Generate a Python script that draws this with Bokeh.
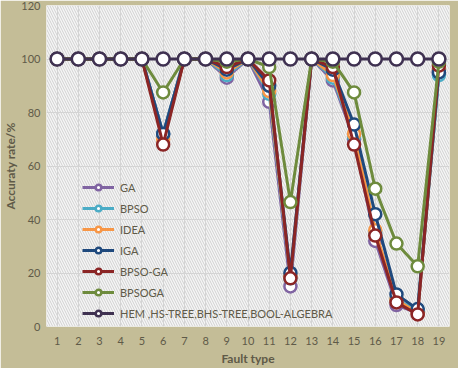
from bokeh.plotting import figure
from bokeh.models import Range1d, FixedTicker, Legend, LegendItem
from bokeh.embed import file_html
from bokeh.resources import INLINE

fault_type = list(range(1, 20))
x_ticks = list(range(1, 20))
y_ticks = [0, 20, 40, 60, 80, 100, 120]

ga      = [100, 100, 100, 100, 100, 72, 100, 100, 93, 100, 84, 15, 100, 92, 70, 32, 8, 5, 95]
bpso    = [100, 100, 100, 100, 100, 72, 100, 100, 94, 100, 87, 18, 100, 93, 71, 35, 10, 6, 94]
idea    = [100, 100, 100, 100, 100, 70, 100, 100, 95, 100, 88, 19, 100, 94, 72, 36, 10, 5, 96]
iga     = [100, 100, 100, 100, 100, 72, 100, 100, 96, 100, 90, 20, 100, 96, 75.5, 42, 12, 6.5, 95]
bpso_ga = [100, 100, 100, 100, 100, 68, 100, 100, 97, 100, 92, 18, 100, 97, 68, 34, 9, 4.5, 97.5]
bpsoga  = [100, 100, 100, 100, 100, 87.5, 100, 100, 99, 100, 97, 46.5, 100, 99, 87.5, 51.5, 31, 22.5, 99]
hem     = [100] * 19

names = ["GA", "BPSO", "IDEA", "IGA", "BPSO-GA", "BPSOGA", "HEM ,HS-TREE,BHS-TREE,BOOL-ALGEBRA"]
series = [ga, bpso, idea, iga, bpso_ga, bpsoga, hem]
colors = ["#8064A2", "#4BACC6", "#F79646", "#1F497D", "#8B2525", "#6E8B3D", "#3F3151"]

TAN = "#C4BD97"
TXT = "#5f5a48"

p = figure(width=458, height=368, output_backend="svg", toolbar_location=None,
           x_range=Range1d(0.5, 19.5), y_range=Range1d(0, 120),
           min_border_left=43, min_border_right=9, min_border_top=5, min_border_bottom=42)
p.background_fill_color = "#f4f4f4"
p.border_fill_color = TAN
p.outline_line_color = None

# hatched plot-area background
p.quad(left=[0.5], right=[19.5], bottom=[0], top=[120], fill_color="#f6f6f6",
       line_color=None, hatch_pattern="\\", hatch_color="#c8c8c8",
       hatch_scale=5, hatch_weight=0.8, level="underlay")

p.xaxis.ticker = FixedTicker(ticks=x_ticks)
p.yaxis.ticker = FixedTicker(ticks=y_ticks)
for ax in (p.xaxis, p.yaxis):
    ax.axis_line_color = None
    ax.major_tick_line_color = None
    ax.minor_tick_line_color = None
    ax.major_tick_out = 0
    ax.major_tick_in = 0
    ax.minor_tick_out = 0
    ax.minor_tick_in = 0
    ax.major_label_text_color = TXT
    ax.major_label_text_font = "Lato"
    ax.major_label_text_font_size = "11px"
    ax.axis_label_text_color = TXT
    ax.axis_label_text_font = "Lato"
    ax.axis_label_text_font_size = "12px"
    ax.axis_label_text_font_style = "bold"
p.xaxis.axis_label = "Fault type"
p.yaxis.axis_label = "Accuraty rate/%"
p.xaxis.major_label_standoff = 10
p.xaxis.axis_label_standoff = 3
p.yaxis.major_label_standoff = 6
p.yaxis.axis_label_standoff = 0

p.xgrid.grid_line_color = "#d4d4d4"
p.ygrid.grid_line_color = "#d4d4d4"
p.xgrid.grid_line_width = 1
p.ygrid.grid_line_width = 1

items = []
for name, ys, c in zip(names, series, colors):
    size = 13 if name.startswith("HEM") else 12
    r1 = p.line(fault_type, ys, line_color=c, line_width=3)
    r2 = p.scatter(fault_type, ys, marker="circle", size=size, fill_color="white",
                   line_color=c, line_width=2.5)
    items.append(LegendItem(label=name, renderers=[r1, r2]))

legend = Legend(items=items, location=(36, 6), background_fill_alpha=0,
                border_line_color=None, label_text_font="Lato",
                label_text_font_size="11px", label_text_color=TXT,
                glyph_width=32, glyph_height=14, spacing=7, padding=0,
                label_standoff=6)
p.add_layout(legend)

open("out.html", "w").write(file_html(p, INLINE))
